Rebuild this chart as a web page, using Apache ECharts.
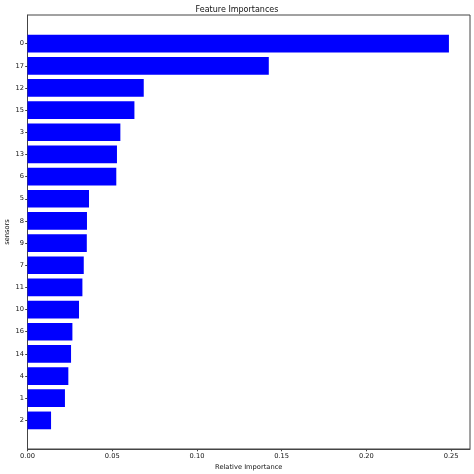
<!DOCTYPE html>
<html>
<head>
<meta charset="utf-8">
<script src="https://cdn.jsdelivr.net/npm/echarts@6/dist/echarts.min.js"></script>
<style>html,body{margin:0;padding:0;background:#fff}#c{width:474px;height:474px}</style>
</head>
<body>
<div id="c"></div>
<script>
// Categories, top to bottom
const categories = ['0','17','12','15','3','13','6','5','8','9','7','11','10','16','14','4','1','2'];
const importances = [0.2487,0.1424,0.0686,0.0631,0.0548,0.0528,0.0524,0.0363,0.0351,0.0350,0.0332,0.0324,0.0304,0.0265,0.0257,0.0241,0.0221,0.0139];
const xTicks = [0, 0.05, 0.10, 0.15, 0.20, 0.25];

const font = 'DejaVu Sans';
const n = categories.length;
const idx = categories.map((_, i) => i);
const data = importances.map((v, i) => [v, i]);
const xMax = Math.max(...importances) * 1.05;
const yPad = (n - 1 + 0.8) * 0.05;

const chart = echarts.init(document.getElementById('c'));
chart.setOption({
  animation: false,
  backgroundColor: '#fff',
  title: {
    text: 'Feature Importances', left: 'center', top: 1,
    textStyle: { fontFamily: font, fontSize: 8, fontWeight: 'normal', color: '#111' }
  },
  grid: {
    left: 27.5, right: 4, top: 15, bottom: 25,
    containLabel: false, outerBoundsMode: 'none',
    show: true, borderColor: '#444', borderWidth: 1, backgroundColor: 'transparent'
  },
  xAxis: {
    type: 'value', min: 0, max: xMax,
    name: 'Relative Importance', nameLocation: 'middle', nameGap: 15, nameMoveOverlap: false,
    nameTextStyle: { fontFamily: font, fontSize: 6.7, color: '#111' },
    axisLine: { show: true, onZero: false, lineStyle: { color: '#444', width: 1 } },
    axisTick: { show: true, length: 2.3, customValues: xTicks, lineStyle: { color: '#444' } },
    axisLabel: {
      customValues: xTicks, margin: 3.5, fontFamily: font, fontSize: 6.7, color: '#111',
      formatter: v => v.toFixed(2)
    },
    splitLine: { show: false }
  },
  yAxis: {
    type: 'value', inverse: true, min: -0.4 - yPad, max: n - 1 + 0.4 + yPad,
    name: 'sensors', nameLocation: 'middle', nameGap: 17, nameRotate: 90, nameMoveOverlap: false,
    nameTextStyle: { fontFamily: font, fontSize: 6.7, color: '#111' },
    axisLine: { show: true, onZero: false, lineStyle: { color: '#444', width: 1 } },
    axisTick: { show: true, length: 2.3, customValues: idx, lineStyle: { color: '#444' } },
    axisLabel: {
      customValues: idx, margin: 3.5, fontFamily: font, fontSize: 6.7, color: '#111',
      formatter: v => categories[Math.round(v)]
    },
    splitLine: { show: false }
  },
  series: [{
    type: 'custom',
    data: data,
    encode: { x: 0, y: 1 },
    renderItem: (params, api) => {
      const v = api.value(0), i = api.value(1);
      const p0 = api.coord([0, i]);
      const p1 = api.coord([v, i]);
      const h = api.size([0, 0.8])[1];
      return {
        type: 'rect',
        shape: { x: p0[0], y: p0[1] - h / 2, width: p1[0] - p0[0], height: h },
        style: { fill: '#0000ff' }
      };
    }
  }]
});
</script>
</body>
</html>
